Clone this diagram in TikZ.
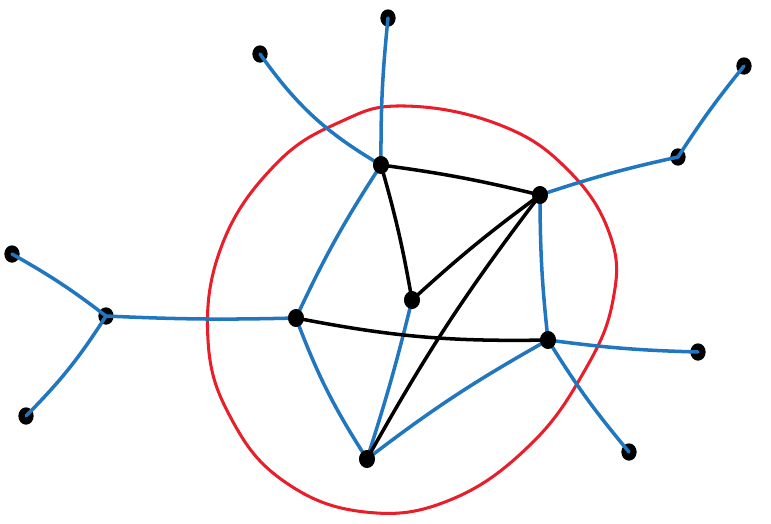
\documentclass[tikz,border=0pt]{standalone}
\usepackage{tikz}
\usetikzlibrary{positioning,shapes.geometric}
\definecolor{penblue}{RGB}{33,118,192}
\definecolor{penred}{RGB}{232,30,42}
\tikzset{
    %Define style for the dots
    dot/.style={
           ellipse,
           fill=black,
           inner sep=0pt,
           minimum width=4.6mm,
           minimum height=5.2mm},
    % Define edge styles
    bl/.style={
           draw=penblue,
           line width=3pt,
           line cap=round},
    bk/.style={
           draw=black,
           line width=3pt,
           line cap=round}
}
\begin{document}
\begin{tikzpicture}[x=0.03cm,y=-0.03cm]
\useasboundingbox (0,0) rectangle (771,523);
%Circle
\draw[penred, line width=2.6pt] plot[smooth cycle, tension=0.7] coordinates {
(405,106) (500,125) (568,170) (610,235) (613,300) (585,370) (530,445)
(450,500) (365,512) (285,482) (232,420) (208,340) (222,245) (275,165) (340,122)};
%Nodes
\node[dot] (top) at (381,165) {};
\node[dot] (right) at (540,195) {};
\node[dot] (mid) at (412,300) {};
\node[dot] (left) at (296,318) {};
\node[dot] (lowright) at (548,340) {};
\node[dot] (bottom) at (367,459) {};
\node[dot] (g) at (388,18) {};
\node[dot] (h) at (260,54) {};
\node[dot] (i) at (744,66) {};
\node[dot] (j) at (678,157) {};
\node[dot] (k) at (106,316) {};
\node[dot] (l) at (12,254) {};
\node[dot] (m) at (26,416) {};
\node[dot] (n) at (698,352) {};
\node[dot] (o) at (629,452) {};
%Blue edges
\draw[bl] (top.center) to[bend left=3] (g.center);
\draw[bl] (top.center) to[bend left=12] (h.center);
\draw[bl] (top.center) to[bend right=4] (left.center);
\draw[bl] (right.center) to[bend left=3] (j.center);
\draw[bl] (j.center) to[bend left=3] (i.center);
\draw[bl] (right.center) to[bend right=3] (lowright.center);
\draw[bl] (left.center) to[bend left=2] (k.center);
\draw[bl] (k.center) to[bend right=4] (l.center);
\draw[bl] (k.center) to[bend left=6] (m.center);
\draw[bl] (left.center) to[bend right=6] (bottom.center);
\draw[bl] (bottom.center) to[bend right=2] (mid.center);
\draw[bl] (bottom.center) to[bend left=4] (lowright.center);
\draw[bl] (lowright.center) to[bend right=3] (n.center);
\draw[bl] (lowright.center) to[bend right=4] (o.center);
%Black edges
\draw[bk] (top.center) to[bend left=3] (right.center);
\draw[bk] (top.center) to[bend left=3] (mid.center);
\draw[bk] (mid.center) to[bend left=3] (right.center);
\draw[bk] (right.center) to[bend right=4] (bottom.center);
\draw[bk] (left.center) to[bend right=6] (lowright.center);
%Dots on top
\foreach \d in {top,right,mid,left,lowright,bottom}
  \fill (\d) ellipse (2.4mm and 2.7mm);
\end{tikzpicture}
\end{document}
